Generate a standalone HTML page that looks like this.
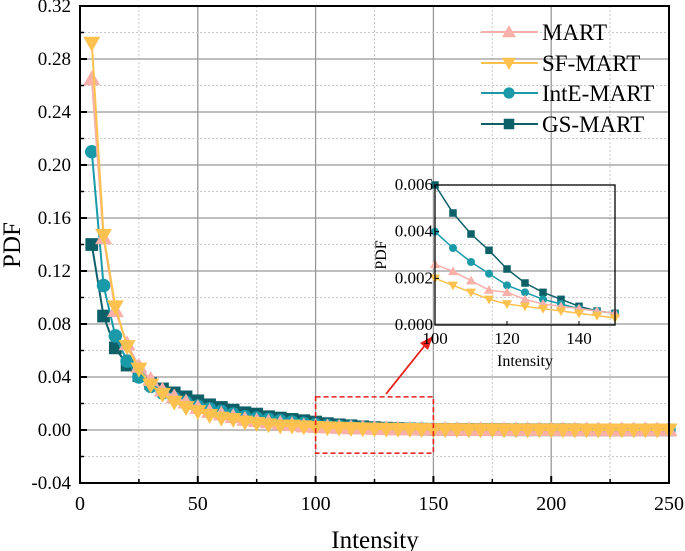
<!DOCTYPE html>
<html><head><meta charset="utf-8"><style>
html,body{margin:0;padding:0;background:#fff;}
svg{display:block;font-family:"Liberation Serif",serif;}
</style></head><body>
<svg id="chart" width="685" height="551" viewBox="0 0 685 551">
<g id="grid"></g>
<g id="series"></g>
<g id="axes"></g>
<g id="inset"></g>
<g id="legend"></g>
</svg>
<script>
const xTicks=[0,50,100,150,200,250];
const yTicks=[-0.04,0,0.04,0.08,0.12,0.16,0.20,0.24,0.28,0.32];
const yTickLabels=["-0.04","0.00","0.04","0.08","0.12","0.16","0.20","0.24","0.28","0.32"];
const intensity=[5,10,15,20,25,30,35,40,45,50,55,60,65,70,75,80,85,90,95,100,105,110,115,120,125,130,135,140,145,150,155,160,165,170,175,180,185,190,195,200,205,210,215,220,225,230,235,240,245,250];
const martVals=[0.265,0.145,0.090,0.065,0.048,0.038,0.030,0.025,0.021,0.017,0.014,0.012,0.010,0.008,0.007,0.006,0.005,0.004,0.003,0.0026,0.0023,0.0019,0.0015,0.0014,0.0011,0.0009,0.0008,0.0007,0.0006,0.0005,0.0004,0.0004,0.0003,0.0003,0.0003,0.0002,0.0002,0.0002,0.0002,0.0002,0.0001,0.0001,0.0001,0.0001,0.0001,0.0001,0.0001,0.0001,0.0001,0.0001];
const sfVals=[0.292,0.147,0.093,0.063,0.046,0.034,0.027,0.021,0.017,0.014,0.011,0.009,0.008,0.006,0.005,0.004,0.003,0.003,0.0025,0.0020,0.0017,0.0014,0.0011,0.0009,0.0008,0.0007,0.0006,0.0005,0.0004,0.0003,0.0003,0.0003,0.0002,0.0002,0.0002,0.0002,0.0001,0.0001,0.0001,0.0001,0.0001,0.0001,0.0001,0.0001,0.0001,0.0001,0.0001,0.0001,0.0001,0.0001];
const inteVals=[0.210,0.109,0.071,0.052,0.040,0.033,0.028,0.024,0.021,0.018,0.016,0.014,0.012,0.010,0.009,0.008,0.007,0.006,0.005,0.0040,0.0033,0.0027,0.0022,0.0017,0.0014,0.0011,0.0009,0.0007,0.0006,0.0005,0.0004,0.0004,0.0003,0.0003,0.0003,0.0002,0.0002,0.0002,0.0002,0.0002,0.0002,0.0001,0.0001,0.0001,0.0001,0.0001,0.0001,0.0001,0.0001,0.0001];
const gsVals=[0.140,0.086,0.062,0.049,0.041,0.035,0.031,0.028,0.025,0.022,0.019,0.017,0.015,0.013,0.012,0.010,0.009,0.008,0.007,0.0060,0.0048,0.0039,0.0032,0.0024,0.0018,0.0014,0.0011,0.0008,0.0006,0.0005,0.0005,0.0004,0.0004,0.0003,0.0003,0.0003,0.0002,0.0002,0.0002,0.0002,0.0002,0.0002,0.0001,0.0001,0.0001,0.0001,0.0001,0.0001,0.0001,0.0001];
const seriesNames=["MART","SF-MART","IntE-MART","GS-MART"];
const insetXTicks=[100,120,140];
const insetYTicks=[0,0.002,0.004,0.006];
const insetYLabels=["0.000","0.002","0.004","0.006"];

const NS="http://www.w3.org/2000/svg";
function mk(tag,attrs,parent,text){const e=document.createElementNS(NS,tag);for(const k in attrs)e.setAttribute(k,attrs[k]);if(text!==undefined)e.textContent=text;parent.appendChild(e);return e;}
const L=80,R=669,T=6,B=483;
const xS=v=>L+(v-0)/250*(R-L);
const yS=v=>B-(v+0.04)/0.36*(B-T);
const grid=document.getElementById('grid'),axes=document.getElementById('axes'),ser=document.getElementById('series'),ins=document.getElementById('inset'),leg=document.getElementById('legend');

for(let i=0;i<=10;i++){const v=i*25;const g=mk('line',{x1:xS(v),x2:xS(v),y1:T,y2:B,stroke:i%2?'#c8c8c8':'#999','stroke-width':i%2?1:1.3,'stroke-dasharray':i%2?'2,2':'none'},grid);
}
for(let i=0;i<=18;i++){const v=-0.04+i*0.02;const g=mk('line',{x1:L,x2:R,y1:yS(v),y2:yS(v),stroke:i%2?'#c8c8c8':'#999','stroke-width':i%2?1:1.3,'stroke-dasharray':i%2?'2,2':'none'},grid);
}

const colors=["#f8b0a9","#fdc14f","#1a9aa8","#0e6068"];
const shapes=["tri","tri-down","circle","square"];
function marker(shape,x,y,s,fill,parent){
 let e;
 if(shape==='tri')e=mk('polygon',{points:`${x},${y-s} ${x-s},${y+s*0.75} ${x+s},${y+s*0.75}`,fill},parent);
 else if(shape==='tri-down')e=mk('polygon',{points:`${x},${y+s} ${x-s},${y-s*0.75} ${x+s},${y-s*0.75}`,fill},parent);
 else if(shape==='circle')e=mk('circle',{cx:x,cy:y,r:s*0.8,fill},parent);
 else e=mk('rect',{x:x-s*0.75,y:y-s*0.75,width:s*1.5,height:s*1.5,fill},parent);
 return e;
}
const allVals=[martVals,sfVals,inteVals,gsVals];
const drawOrder=[3,2,0,1];
drawOrder.forEach(si=>{
 const vals=allVals[si];
 const p=mk('polyline',{points:intensity.map((x,i)=>xS(x)+','+yS(vals[i])).join(' '),fill:'none',stroke:colors[si],'stroke-width':2},ser);
 
 intensity.forEach((x,i)=>{const m=marker(shapes[si],xS(x),yS(vals[i]),8.5,colors[si],ser);
 });
});

const box=mk('rect',{x:L,y:T,width:R-L,height:B-T,fill:'none',stroke:'#000','stroke-width':2},axes);

xTicks.forEach(v=>{mk('line',{x1:xS(v),x2:xS(v),y1:B,y2:B-7,stroke:'#000','stroke-width':2},axes);
 const t=mk('text',{x:xS(v),y:510,'text-anchor':'middle','font-size':20},axes,String(v));
 });
for(let i=0;i<10;i++){const v=25+i*50;mk('line',{x1:xS(v),x2:xS(v),y1:B,y2:B-4,stroke:'#000','stroke-width':1.5},axes);}
yTicks.forEach((v,i)=>{mk('line',{x1:L,x2:L+7,y1:yS(v),y2:yS(v),stroke:'#000','stroke-width':2},axes);
 const t=mk('text',{x:71,y:yS(v)+6,'text-anchor':'end','font-size':19},axes,yTickLabels[i]);
 });
for(let i=0;i<9;i++){const v=-0.02+i*0.04;mk('line',{x1:L,x2:L+4,y1:yS(v),y2:yS(v),stroke:'#000','stroke-width':1.5},axes);}
const xt=mk('text',{x:375,y:548,'text-anchor':'middle','font-size':25},axes,'Intensity');

const yt=mk('text',{x:0,y:0,'text-anchor':'middle','font-size':25,transform:'translate(20,245) rotate(-90)'},axes,'PDF');


const zr=mk('rect',{x:xS(100),y:yS(0.025),width:xS(150)-xS(100),height:yS(-0.0175)-yS(0.025),fill:'none',stroke:'#e8201c','stroke-width':1.6,'stroke-dasharray':'5,3'},axes);

const ar=mk('line',{x1:386,y1:394,x2:426,y2:344,stroke:'#e8201c','stroke-width':1.8},axes);

const ah=mk('polygon',{points:'433,336 420,343 428,350',fill:'#e8201c'},axes);


const IL=435,IR=615,IT=185,IB=325;
const ixS=v=>IL+(v-100)/50*(IR-IL);
const iyS=v=>IB-v/0.006*(IB-IT);
drawOrder.forEach(si=>{
 const vals=allVals[si];const pts=[];
 intensity.forEach((x,i)=>{if(x>=100&&x<=150)pts.push([ixS(x),iyS(vals[i])]);});
 const p=mk('polyline',{points:pts.map(q=>q.join(',')).join(' '),fill:'none',stroke:colors[si],'stroke-width':1.5},ins);
 
 pts.forEach(q=>{const m=marker(shapes[si],q[0],q[1],5,colors[si],ins);
 });
});
const ib=mk('rect',{x:IL,y:IT,width:IR-IL,height:IB-IT,fill:'none',stroke:'#000','stroke-width':1.3},ins);

insetXTicks.forEach(v=>{mk('line',{x1:ixS(v),x2:ixS(v),y1:IB,y2:IB-4,stroke:'#000'},ins);
 const t=mk('text',{x:ixS(v),y:344,'text-anchor':'middle','font-size':17},ins,String(v));
 });
insetYTicks.forEach((v,i)=>{mk('line',{x1:IL,x2:IL+4,y1:iyS(v),y2:iyS(v),stroke:'#000'},ins);
 const t=mk('text',{x:433,y:iyS(v)+5,'text-anchor':'end','font-size':17},ins,insetYLabels[i]);
 });
const ixt=mk('text',{x:525,y:366,'text-anchor':'middle','font-size':16},ins,'Intensity');

const iyt=mk('text',{x:0,y:0,'text-anchor':'middle','font-size':16,transform:'translate(386,255) rotate(-90)'},ins,'PDF');


const legY=[32,63,93,124];
seriesNames.forEach((n,si)=>{
 const g=mk('g',{},leg);
 
 mk('line',{x1:481,x2:538,y1:legY[si],y2:legY[si],stroke:colors[si],'stroke-width':2},g);
 marker(shapes[si],509,legY[si],7,colors[si],g);
 mk('text',{x:542,y:legY[si]+8,'font-size':23},g,n);
});
</script>
</body></html>
